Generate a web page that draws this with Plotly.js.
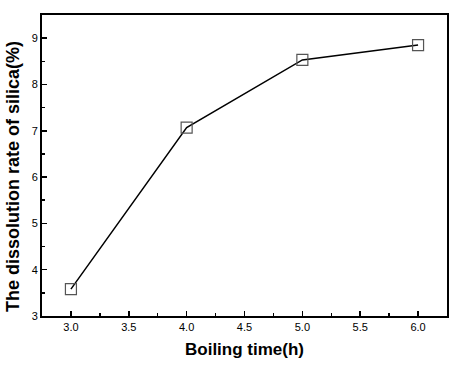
<!DOCTYPE html>
<html><head><meta charset="utf-8">
<script src="https://cdn.plot.ly/plotly-3.0.1.min.js"></script>
<style>body{margin:0;background:#fff}#c{width:474px;height:366px}</style>
</head><body><div id="c"></div>
<script>
const boilingTime = [3.0, 4.0, 5.0, 6.0];
const dissolutionRate = [3.58, 7.07, 8.53, 8.85];
const xTickVals = [3.0, 3.5, 4.0, 4.5, 5.0, 5.5, 6.0];
const xTickText = ['3.0','3.5','4.0','4.5','5.0','5.5','6.0'];
const yTickVals = [3,4,5,6,7,8,9];

Plotly.newPlot('c', [{
  x: boilingTime, y: dissolutionRate, type: 'scatter', mode: 'lines+markers',
  line: {color: '#000', width: 1.5},
  marker: {symbol: 'square-open', size: 11, color: '#555', line: {width: 1.2, color: '#555'}},
  cliponaxis: false
}], {
  width: 474, height: 366,
  margin: {l: 42, r: 27, t: 15, b: 50},
  paper_bgcolor: '#fff', plot_bgcolor: '#fff',
  font: {family: 'Liberation Sans, Arial, sans-serif', color: '#000'},
  showlegend: false,
  xaxis: {
    range: [2.75, 6.25], tickvals: xTickVals, ticktext: xTickText,
    ticks: 'inside', ticklen: 5, tickwidth: 1.5, tickcolor: '#000',
    minor: {dtick: 0.25, tick0: 0, ticks: 'inside', ticklen: 3, tickwidth: 1.5, tickcolor: '#000'},
    showline: true, linecolor: '#000', linewidth: 2, mirror: true,
    showgrid: false, zeroline: false,
    tickfont: {size: 11},
    title: {text: '<b>Boiling time(h)</b>', font: {size: 17}, standoff: 11}
  },
  yaxis: {
    range: [3, 9.5], tickvals: yTickVals,
    ticks: 'inside', ticklen: 5, tickwidth: 1.5, tickcolor: '#000',
    minor: {dtick: 0.5, tick0: 0, ticks: 'inside', ticklen: 3, tickwidth: 1.5, tickcolor: '#000'},
    showline: true, linecolor: '#000', linewidth: 2, mirror: true,
    showgrid: false, zeroline: false,
    tickfont: {size: 11}
  },
  annotations: [{
    text: '<b>The dissolution rate of silica(%)</b>', textangle: -90,
    xref: 'paper', yref: 'paper', x: -0.0716, y: 0.462,
    xanchor: 'center', yanchor: 'middle', showarrow: false,
    font: {size: 18}
  }]
}, {displayModeBar: false, staticPlot: true});
</script></body></html>
